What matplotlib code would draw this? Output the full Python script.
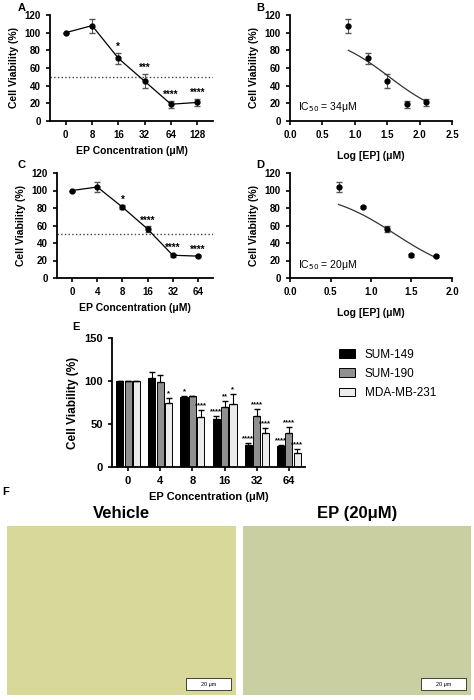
import numpy as np
import matplotlib
matplotlib.use("Agg")
import matplotlib.pyplot as plt
from matplotlib.patches import Rectangle

W, H = 474, 700
fig = plt.figure(figsize=(W/100, H/100), dpi=100)
plt.rcParams['font.family'] = ['Liberation Sans', 'DejaVu Sans']

def ax_px(x0, y0, x1, y1):
    return fig.add_axes([x0/W, 1-y1/H, (x1-x0)/W, (y1-y0)/H])

# Data
a_labels = ["0", "8", "16", "32", "64", "128"]
a_vals = [100, 108, 71, 45, 19, 21]
a_err = [0, 8, 6, 8, 4, 4]
a_stars = ["", "", "*", "***", "****", "****"]
b_x = [0.9, 1.2, 1.5, 1.8, 2.1]
b_vals = [108, 71, 45, 19, 21]
b_err = [8, 6, 8, 4, 4]
b_logic50, b_hill = 1.53, 0.955

c_labels = ["0", "4", "8", "16", "32", "64"]
c_vals = [100, 104, 81, 56, 26, 25]
c_err = [0, 6, 2, 3, 2, 1]
c_stars = ["", "", "*", "****", "****", "****"]
d_x = [0.6, 0.9, 1.2, 1.5, 1.8]
d_vals = [104, 81, 56, 26, 25]
d_err = [6, 1, 3, 2, 1]
d_logic50, d_hill = 1.3, 1.03

e_labels = ["0", "4", "8", "16", "32", "64"]
e_series = ["SUM-149", "SUM-190", "MDA-MB-231"]
e_vals = [[100, 104, 81, 56, 26, 25],
          [100, 99, 82, 70, 59, 40],
          [100, 74, 58, 73, 40, 16]]
e_err = [[0, 6, 1, 3, 2, 1],
         [0, 8, 1, 7, 8, 6],
         [0, 6, 8, 12, 5, 5]]
e_stars = [["", "", "*", "****", "****", "****"],
           ["", "", "", "**", "****", "****"],
           ["", "*", "****", "*", "****", "****"]]
e_colors = ["black", "#909090", "#ebebeb"]

def style(ax):
    for s in ["top", "right"]:
        ax.spines[s].set_visible(False)
    for s in ["left", "bottom"]:
        ax.spines[s].set_linewidth(1.3)
    ax.tick_params(labelsize=7, width=1.2, length=3)
    for t in ax.get_xticklabels() + ax.get_yticklabels():
        t.set_fontweight("bold")

def conc_panel(ax, labels, vals, err, stars):
    x = np.arange(len(vals))
    ax.errorbar(x, vals, yerr=err, fmt="o-", color="black", ms=3.5, lw=0.9,
                ecolor="#555555", capsize=2.5, elinewidth=0.8, mfc="black")
    for xi, v, e, s in zip(x, vals, err, stars):
        if s:
            ax.text(xi, v + e + 1, s, ha="center", va="bottom", fontsize=7, fontweight="bold")
    ax.axhline(50, ls=":", color="#444444", lw=1)
    ax.set_xticks(x, labels)
    ax.set_xlim(-0.6, len(vals) - 0.4)
    ax.set_ylim(0, 120)
    ax.set_yticks(range(0, 121, 20))
    ax.set_ylabel("Cell Viability (%)", fontsize=7.5, fontweight="bold")
    ax.set_xlabel("EP Concentration (μM)", fontsize=7.5, fontweight="bold")
    style(ax)

def log_panel(ax, xs, vals, err, logic50, hill, xmax, ic):
    ax.errorbar(xs, vals, yerr=err, fmt="o", color="black", ms=3.5,
                ecolor="#555555", capsize=2.5, elinewidth=0.8)
    xf = np.linspace(xs[0], xs[-1], 100)
    ax.plot(xf, 100 / (1 + 10 ** (hill * (xf - logic50))), color="#333333", lw=0.9)
    ax.set_xlim(0, xmax)
    ax.set_xticks(np.arange(0, xmax + 0.01, 0.5))
    ax.set_ylim(0, 120)
    ax.set_yticks(range(0, 121, 20))
    ax.set_ylabel("Cell Viability (%)", fontsize=7.5, fontweight="bold")
    ax.set_xlabel("Log [EP] (μM)", fontsize=7.5, fontweight="bold", labelpad=8)
    ax.text(0.05, 0.1, "IC$_{50}$ = " + ic, transform=ax.transAxes, fontsize=7.5)
    style(ax)

axA = ax_px(50, 15, 213, 121)
conc_panel(axA, a_labels, a_vals, a_err, a_stars)
axB = ax_px(290, 15, 452, 121)
log_panel(axB, b_x, b_vals, b_err, b_logic50, b_hill, 2.5, "34μM")
axC = ax_px(57, 173, 213, 278)
conc_panel(axC, c_labels, c_vals, c_err, c_stars)
axD = ax_px(290, 173, 452, 278)
log_panel(axD, d_x, d_vals, d_err, d_logic50, d_hill, 2.0, "20μM")

# E
axE = ax_px(112, 338, 305, 467)
n = len(e_labels)
x = np.arange(n)
bw = 0.26
for i, (name, vals, err, st, c) in enumerate(zip(e_series, e_vals, e_err, e_stars, e_colors)):
    xi = x + (i - 1) * bw
    axE.bar(xi, vals, bw * 0.85, color=c, edgecolor="black", lw=0.7, label=name,
            yerr=[np.zeros(n), err], error_kw=dict(ecolor="black", capsize=2, elinewidth=0.8))
    for xx, v, e, s in zip(xi, vals, err, st):
        if s:
            axE.text(xx, v + e + 1, s, ha="center", va="bottom", fontsize=5.5, fontweight="bold")
axE.set_xticks(x, e_labels)
axE.set_xlim(-0.5, n - 0.5)
axE.set_ylim(0, 150)
axE.set_yticks([0, 50, 100, 150])
axE.set_ylabel("Cell Viability (%)", fontsize=8.5, fontweight="bold")
axE.set_xlabel("EP Concentration (μM)", fontsize=8, fontweight="bold")
style(axE)
axE.tick_params(labelsize=8)
axE.legend(loc="upper left", bbox_to_anchor=(1.12, 1.0), frameon=False, fontsize=8.5,
           handlelength=1.4, labelspacing=0.6)

# F: image panels (placeholders for micrographs)
for x0, x1, col, title in [(7, 236, "#d8d89a", "Vehicle"), (243, 471, "#c9cfa0", "EP (20μM)")]:
    ax = ax_px(x0, 526, x1, 695)
    ax.set_facecolor(col)
    ax.set_xticks([]); ax.set_yticks([])
    for s in ax.spines.values():
        s.set_visible(False)
    ax.set_title(title, fontsize=12, fontweight="bold", pad=6)
    ax.add_patch(Rectangle((0.78, 0.03), 0.2, 0.07, transform=ax.transAxes,
                           facecolor="white", edgecolor="black", lw=0.5))
    ax.text(0.88, 0.065, "20 μm", transform=ax.transAxes, fontsize=4, ha="center", va="center")

for lbl, xx, yy in [("A", 18, 8), ("B", 256, 8), ("C", 18, 165), ("D", 256, 165),
                    ("E", 72, 327), ("F", 2, 492)]:
    fig.text(xx / W, 1 - yy / H, lbl, fontsize=8, fontweight="bold", va="center")

fig.savefig("out.png", dpi=100)
